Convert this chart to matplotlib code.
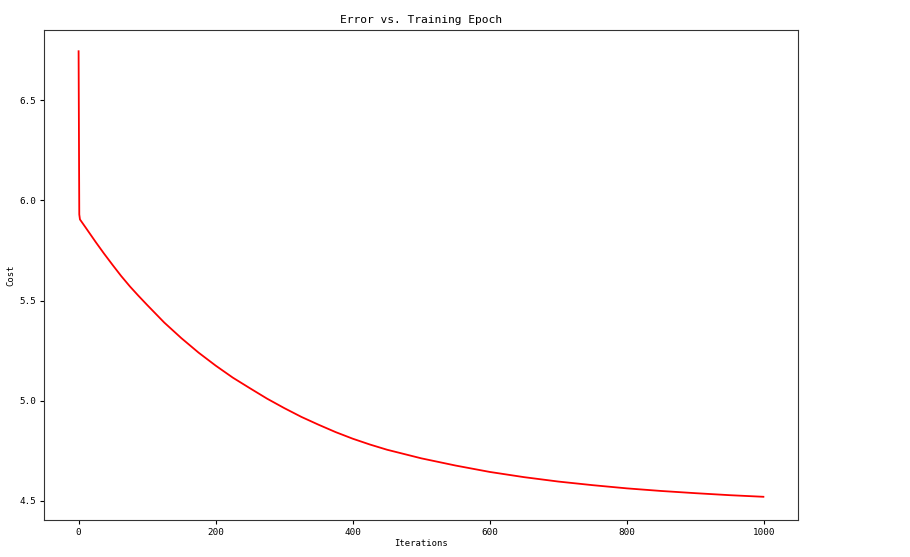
import matplotlib
matplotlib.use('Agg')
import matplotlib.pyplot as plt

# Cost values
iterations = [0, 1, 2, 10, 25, 37, 50, 62, 75, 87, 100, 125, 150, 175, 200,
              225, 250, 275, 300, 325, 350, 375, 400, 425, 450, 500, 550, 600,
              650, 700, 750, 800, 850, 900, 950, 999]
cost = [6.745, 5.93, 5.905, 5.866, 5.792, 5.735, 5.676, 5.623, 5.57, 5.525,
        5.478, 5.39, 5.312, 5.24, 5.175, 5.115, 5.062, 5.010, 4.963, 4.919,
        4.880, 4.843, 4.810, 4.781, 4.755, 4.712, 4.676, 4.644, 4.618, 4.596,
        4.578, 4.562, 4.549, 4.538, 4.528, 4.520]

plt.rcParams['font.family'] = ['DejaVu Sans Mono']

fig = plt.figure(figsize=(9.1, 5.57), dpi=100)
ax = fig.add_axes([0.0487, 0.0664, 0.8286, 0.8797])

ax.plot(iterations, cost, color='red', linewidth=1.3)
ax.set_xticks([0, 200, 400, 600, 800, 1000])
ax.set_yticks([4.5, 5.0, 5.5, 6.0, 6.5])
ax.set_xlim(-50, 1050)
ax.set_ylim(4.404, 6.851)

ax.set_title('Error vs. Training Epoch', fontsize=8.1, pad=5)
ax.set_xlabel('Iterations', fontsize=6.4, labelpad=2)
ax.set_ylabel('Cost', fontsize=6.4, labelpad=3)
ax.tick_params(labelsize=6.7, length=3, pad=2.5)
for s in ax.spines.values():
    s.set_color('#333333')

fig.savefig('out.png', dpi=100)
